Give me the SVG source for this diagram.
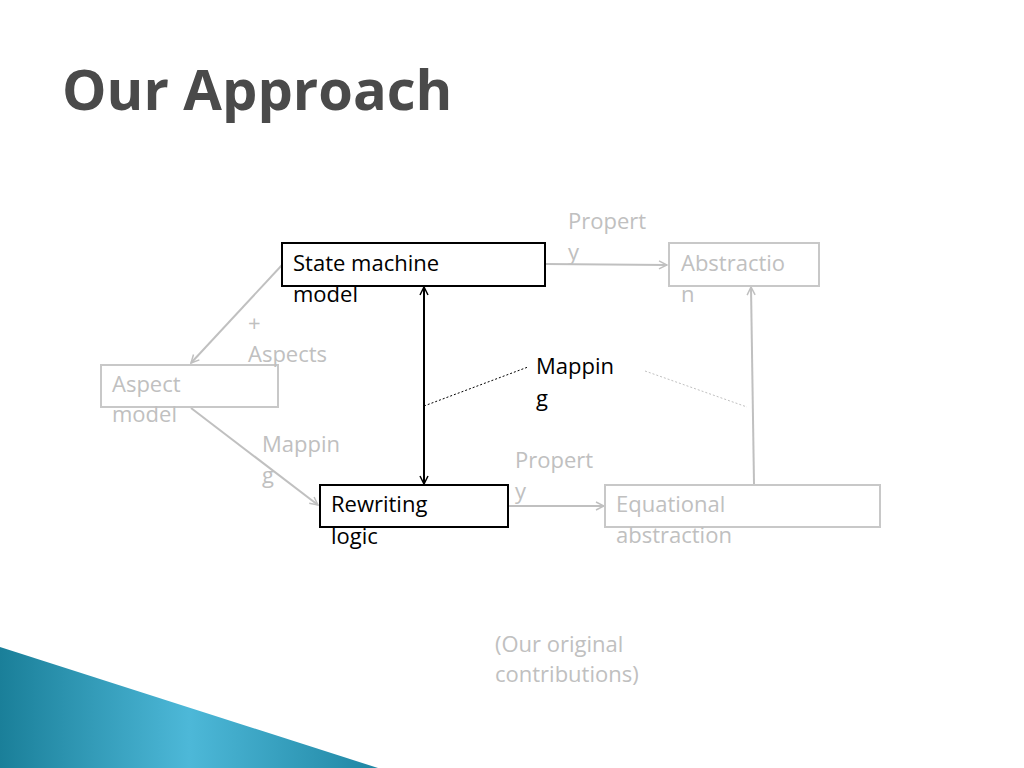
<svg xmlns="http://www.w3.org/2000/svg" width="1024" height="768" viewBox="0 0 1024 768">
<defs>
<linearGradient id="g" x1="0" y1="0" x2="1" y2="0">
<stop offset="0" stop-color="#1a7f99"/><stop offset="0.5" stop-color="#4db8d8"/><stop offset="1" stop-color="#1f86a3"/>
</linearGradient>
<marker id="ag" viewBox="0 0 10 10" refX="9" refY="5" markerWidth="10" markerHeight="10" orient="auto-start-reverse" markerUnits="userSpaceOnUse"><path d="M1,1 L9,5 L1,9" fill="none" stroke="#c0c0c0" stroke-width="1.5"/></marker>
<marker id="ab" viewBox="0 0 10 10" refX="9" refY="5" markerWidth="10" markerHeight="10" orient="auto-start-reverse" markerUnits="userSpaceOnUse"><path d="M1,1 L9,5 L1,9" fill="none" stroke="#000" stroke-width="1.5"/></marker>
</defs>
<style>
text{font-family:"Open Sans","DejaVu Sans",sans-serif;font-size:22px}
.g{fill:#c0c0c0}.k{fill:#000}
.bg{fill:#fff;stroke:#c8c8c8;stroke-width:2}
.bk{fill:#fff;stroke:#000;stroke-width:2}
.cg{stroke:#c0c0c0;stroke-width:2;fill:none}
</style>
<rect width="1024" height="768" fill="#fff"/>
<polygon points="0,647 378,768 0,768" fill="url(#g)"/>
<text x="62" y="110" style="font-size:56px;fill:#4a4a4a;font-weight:bold">Our Approach</text>
<g id="connectors">
<line class="cg" x1="545" y1="264" x2="667" y2="265" marker-end="url(#ag)"/>
<line class="cg" x1="282" y1="265" x2="191" y2="363" marker-end="url(#ag)"/>
<line class="cg" x1="191" y1="408" x2="318" y2="505" marker-end="url(#ag)"/>
<line class="cg" x1="509" y1="506" x2="604" y2="506" marker-end="url(#ag)"/>
<line class="cg" x1="754" y1="484" x2="751" y2="287" marker-end="url(#ag)"/>
<line x1="424" y1="287" x2="424" y2="484" stroke="#000" stroke-width="2" marker-start="url(#ab)" marker-end="url(#ab)"/>
<line x1="424" y1="406" x2="528" y2="367" stroke="#000" stroke-width="1" stroke-dasharray="2,2"/>
<line x1="645" y1="371" x2="747" y2="407" stroke="#c0c0c0" stroke-width="1" stroke-dasharray="2,2"/>
</g>
<g id="sm"><rect class="bk" x="282" y="243" width="263" height="43"/><text class="k" x="293" y="271">State machine</text><text class="k" x="293" y="302">model</text></g>
<g id="abs"><rect class="bg" x="669" y="243" width="150" height="43"/><text class="g" x="681" y="271">Abstractio</text><text class="g" x="681" y="302">n</text></g>
<g id="asp"><rect class="bg" x="101" y="365" width="177" height="42"/><text class="g" x="112" y="392">Aspect</text><text class="g" x="112" y="422">model</text></g>
<g id="rw"><rect class="bk" x="320" y="485" width="188" height="42"/><text class="k" x="331" y="512">Rewriting</text><text class="k" x="331" y="544">logic</text></g>
<g id="eq"><rect class="bg" x="605" y="485" width="275" height="42"/><text class="g" x="616" y="512">Equational</text><text class="g" x="616" y="543">abstraction</text></g>
<g id="labels">
<text class="g" x="568" y="229">Propert</text><text class="g" x="568" y="260">y</text>
<text class="g" x="248" y="331">+</text><text class="g" x="248" y="362">Aspects</text>
<text class="k" x="536" y="374">Mappin</text><text class="k" x="536" y="406">g</text>
<text class="g" x="262" y="452">Mappin</text><text class="g" x="262" y="483">g</text>
<text class="g" x="515" y="468">Propert</text><text class="g" x="515" y="499">y</text>
<text class="g" x="495" y="652">(Our original</text><text class="g" x="495" y="682">contributions)</text>
</g>
</svg>
